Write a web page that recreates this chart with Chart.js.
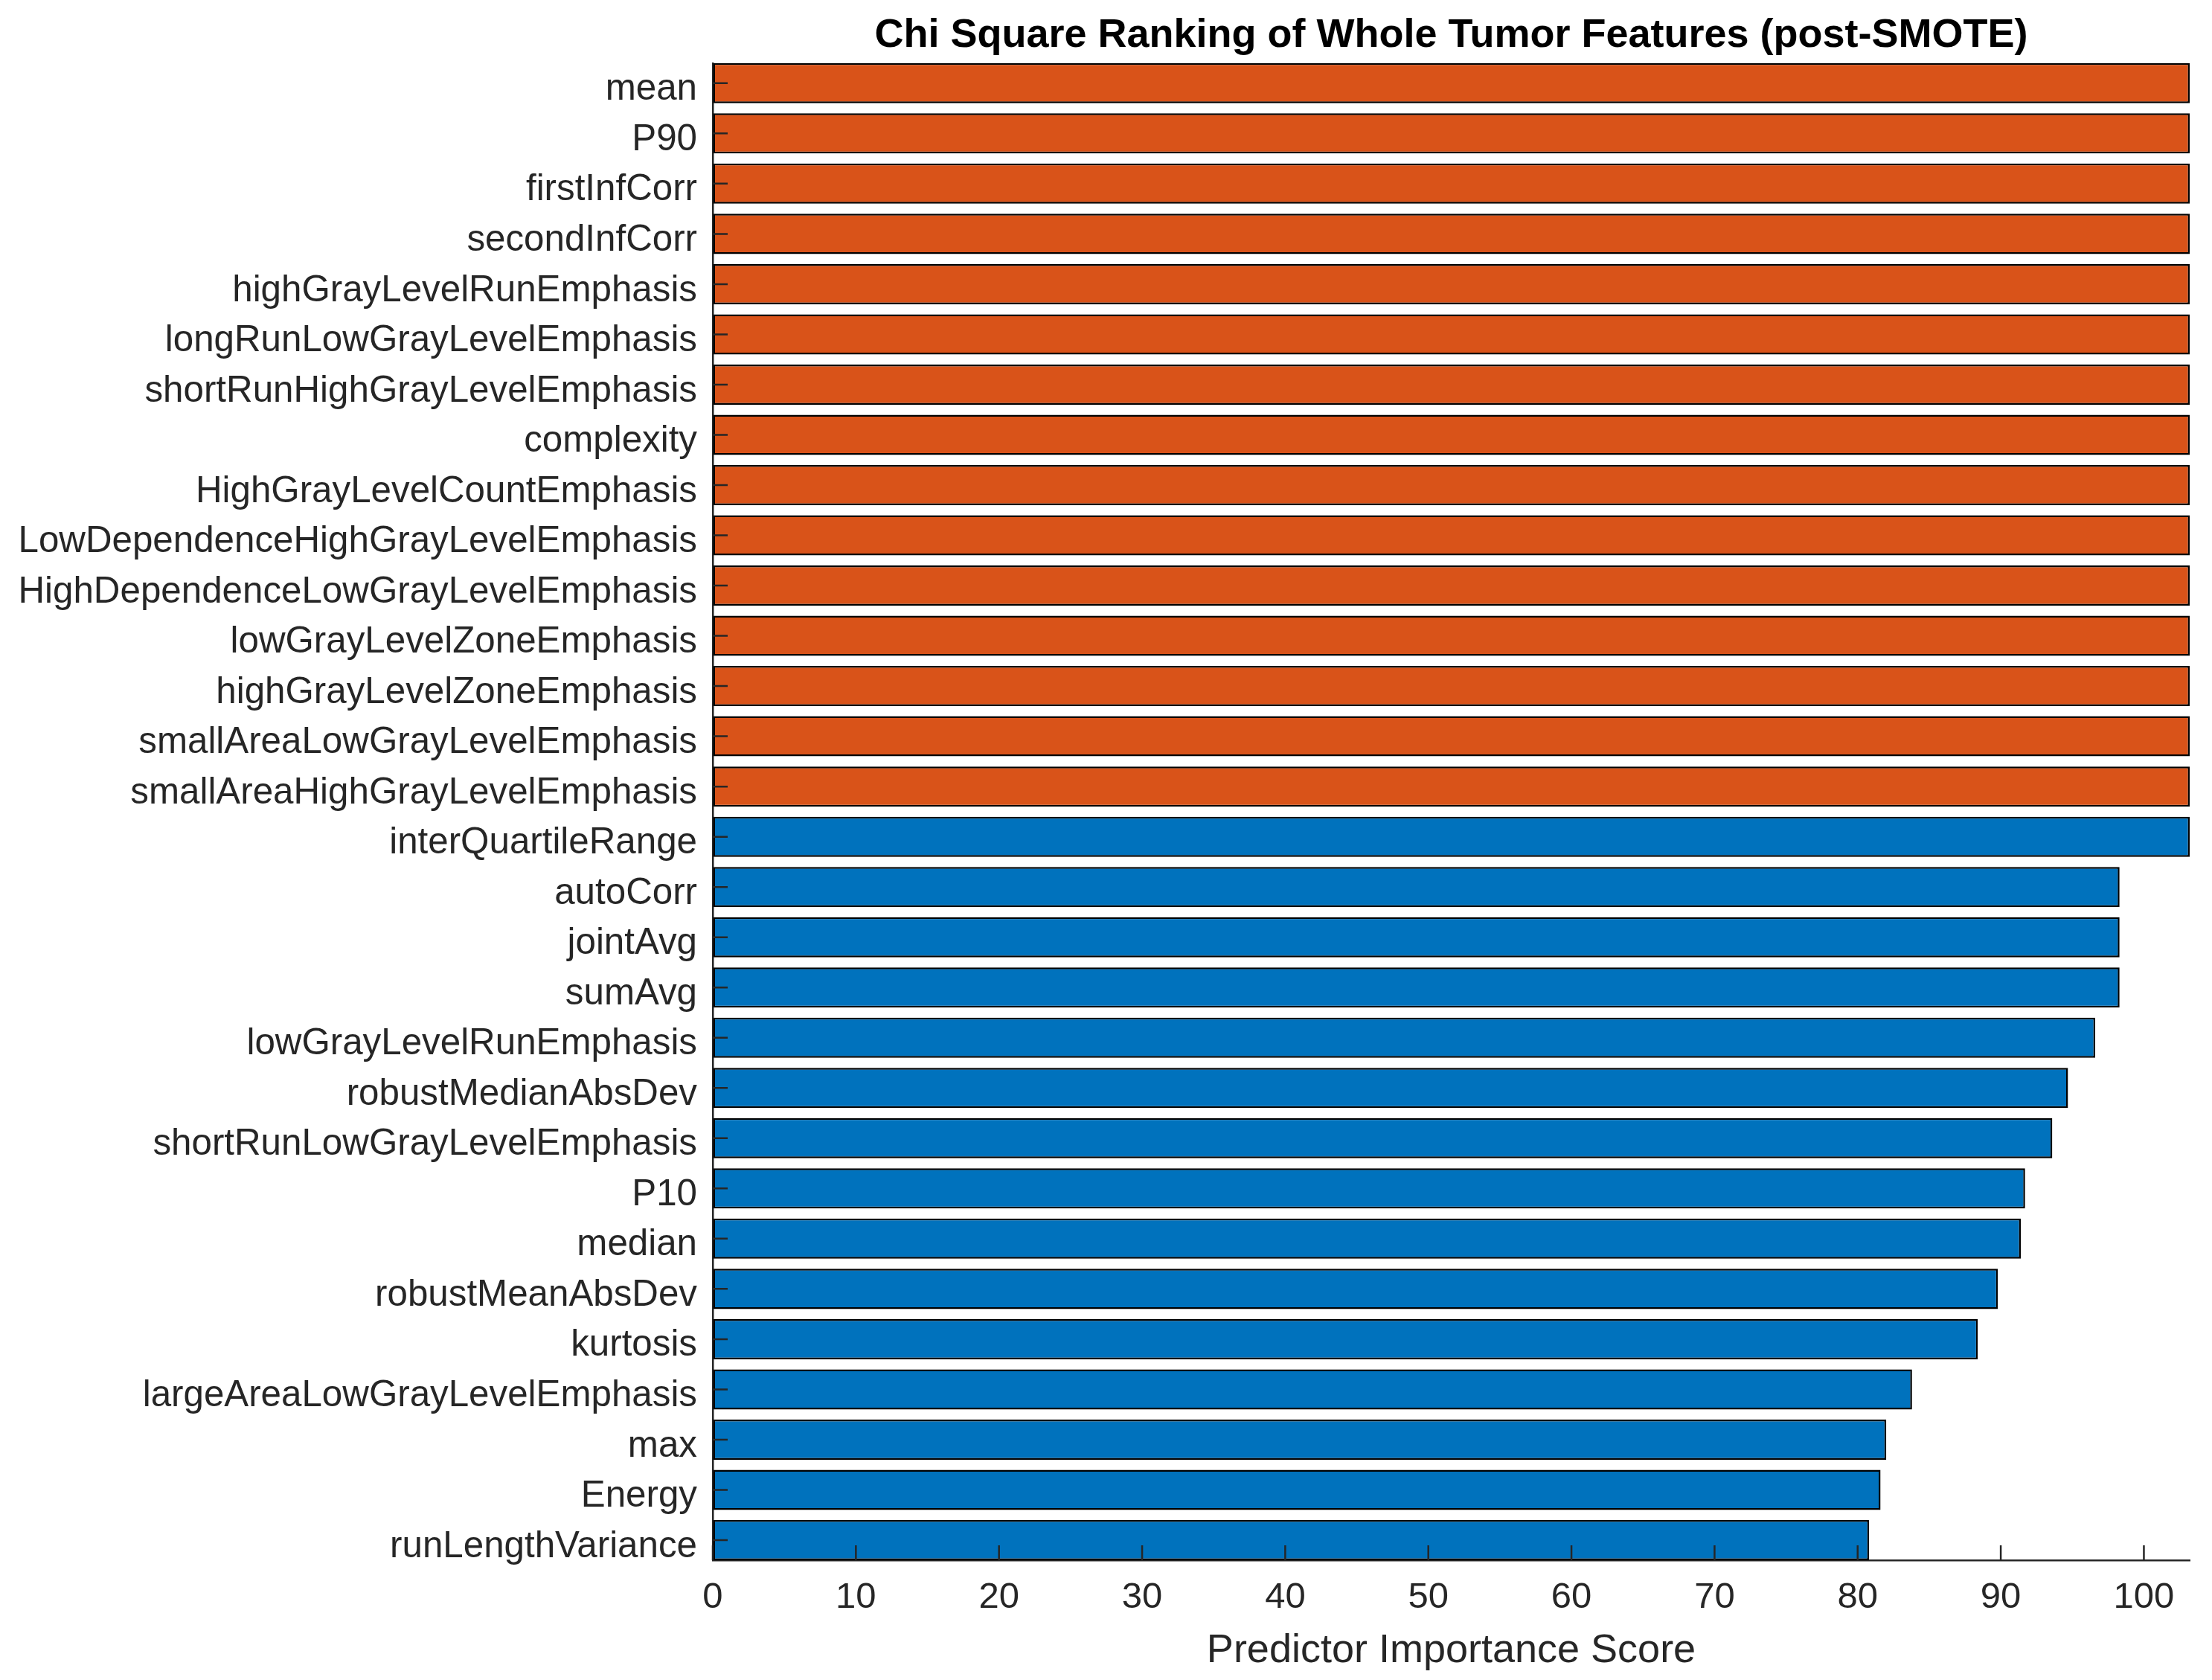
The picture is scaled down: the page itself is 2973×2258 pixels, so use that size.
<!DOCTYPE html>
<html>
<head>
<meta charset="utf-8">
<script src="https://cdn.jsdelivr.net/npm/chart.js@4"></script>
<style>
  body { margin: 0; background: #fff; }
  canvas { display: block; }
</style>
</head>
<body>
<canvas id="chart" width="2973" height="2258"></canvas>
<script>
// donnees
const features = ['mean', 'P90', 'firstInfCorr', 'secondInfCorr', 'highGrayLevelRunEmphasis',
  'longRunLowGrayLevelEmphasis', 'shortRunHighGrayLevelEmphasis', 'complexity',
  'HighGrayLevelCountEmphasis', 'LowDependenceHighGrayLevelEmphasis',
  'HighDependenceLowGrayLevelEmphasis', 'lowGrayLevelZoneEmphasis', 'highGrayLevelZoneEmphasis',
  'smallAreaLowGrayLevelEmphasis', 'smallAreaHighGrayLevelEmphasis', 'interQuartileRange',
  'autoCorr', 'jointAvg', 'sumAvg', 'lowGrayLevelRunEmphasis', 'robustMedianAbsDev',
  'shortRunLowGrayLevelEmphasis', 'P10', 'median', 'robustMeanAbsDev', 'kurtosis',
  'largeAreaLowGrayLevelEmphasis', 'max', 'Energy', 'runLengthVariance'];

// Inf = score infini (barres orange, coupees a la limite de l'axe)
const scores = [Infinity, Infinity, Infinity, Infinity, Infinity, Infinity, Infinity, Infinity,
  Infinity, Infinity, Infinity, Infinity, Infinity, Infinity, Infinity,
  103.2, 98.3, 98.3, 98.3, 96.6, 94.7, 93.6, 91.7, 91.4, 89.8, 88.4, 83.8, 82.0, 81.6, 80.8];

const xMax = 103.2;
const xStep = 10;

const orange = '#D95319';
const blue = '#0072BD';
const axisColor = '#262626';
const fontName = '"Liberation Sans", Arial, Helvetica, sans-serif';

// fond blanc
const whiteBg = {
  id: 'whiteBg',
  beforeDraw(chart) {
    const ctx = chart.ctx;
    ctx.save();
    ctx.fillStyle = '#fff';
    ctx.fillRect(0, 0, chart.width, chart.height);
    ctx.restore();
  }
};

// graduations vers l'interieur (style MATLAB)
const innerTicks = {
  id: 'innerTicks',
  afterDatasetsDraw(chart) {
    const { ctx, chartArea, scales } = chart;
    ctx.save();
    ctx.strokeStyle = axisColor;
    ctx.lineWidth = 2.5;
    ctx.beginPath();
    scales.x.ticks.forEach(t => {
      const px = scales.x.getPixelForValue(t.value);
      ctx.moveTo(px, chartArea.bottom);
      ctx.lineTo(px, chartArea.bottom - 20);
    });
    scales.y.ticks.forEach(t => {
      const py = scales.y.getPixelForValue(t.value);
      ctx.moveTo(chartArea.left, py);
      ctx.lineTo(chartArea.left + 20, py);
    });
    ctx.stroke();
    ctx.restore();
  }
};

const points = features.map((f, i) => ({ x: Math.min(scores[i], xMax), y: i + 1 }));
const colors = scores.map(s => isFinite(s) ? blue : orange);

const ctx = document.getElementById('chart').getContext('2d');
const myChart = new Chart(ctx, {
  type: 'bar',
  data: {
    datasets: [{
      data: points,
      backgroundColor: colors,
      borderColor: '#000',
      borderWidth: 2.5,
      borderSkipped: false,
      barPercentage: 0.8,
      categoryPercentage: 1
    }]
  },
  plugins: [whiteBg, innerTicks],
  options: {
    indexAxis: 'y',
    responsive: false,
    devicePixelRatio: 1,
    animation: false,
    layout: { padding: { left: 0, right: 30, top: 0, bottom: 0 } },
    plugins: {
      legend: { display: false },
      tooltip: { enabled: false },
      title: {
        display: true,
        text: 'Chi Square Ranking of Whole Tumor Features (post-SMOTE)',
        fullSize: false,
        color: '#000',
        font: { family: fontName, size: 54, weight: 'bold' },
        padding: { top: 16, bottom: 4 }
      }
    },
    scales: {
      x: {
        type: 'linear',
        min: 0,
        max: xMax,
        grid: { display: true, drawOnChartArea: false, drawTicks: false },
        border: { display: true, color: axisColor, width: 2.5 },
        ticks: {
          stepSize: xStep,
          includeBounds: false,
          color: axisColor,
          padding: 21,
          maxRotation: 0,
          font: { family: fontName, size: 49 }
        },
        title: {
          display: true,
          text: 'Predictor Importance Score',
          color: axisColor,
          font: { family: fontName, size: 54 },
          padding: { top: 0, bottom: 6 }
        },
        afterFit(scale) { scale.height = 161; }
      },
      y: {
        type: 'linear',
        reverse: true,
        offset: false,
        min: 0.6,
        max: features.length + 0.4,
        grid: { display: true, offset: false, drawOnChartArea: false, drawTicks: false },
        border: { display: true, color: axisColor, width: 2.5 },
        ticks: {
          stepSize: 1,
          includeBounds: false,
          autoSkip: false,
          maxTicksLimit: 100,
          labelOffset: 9,
          color: axisColor,
          padding: 21,
          font: { family: fontName, size: 49.3 },
          callback: function(value) { return features[value - 1]; }
        },
        afterFit(scale) { scale.width = 958; }
      }
    }
  }
});
</script>
</body>
</html>
